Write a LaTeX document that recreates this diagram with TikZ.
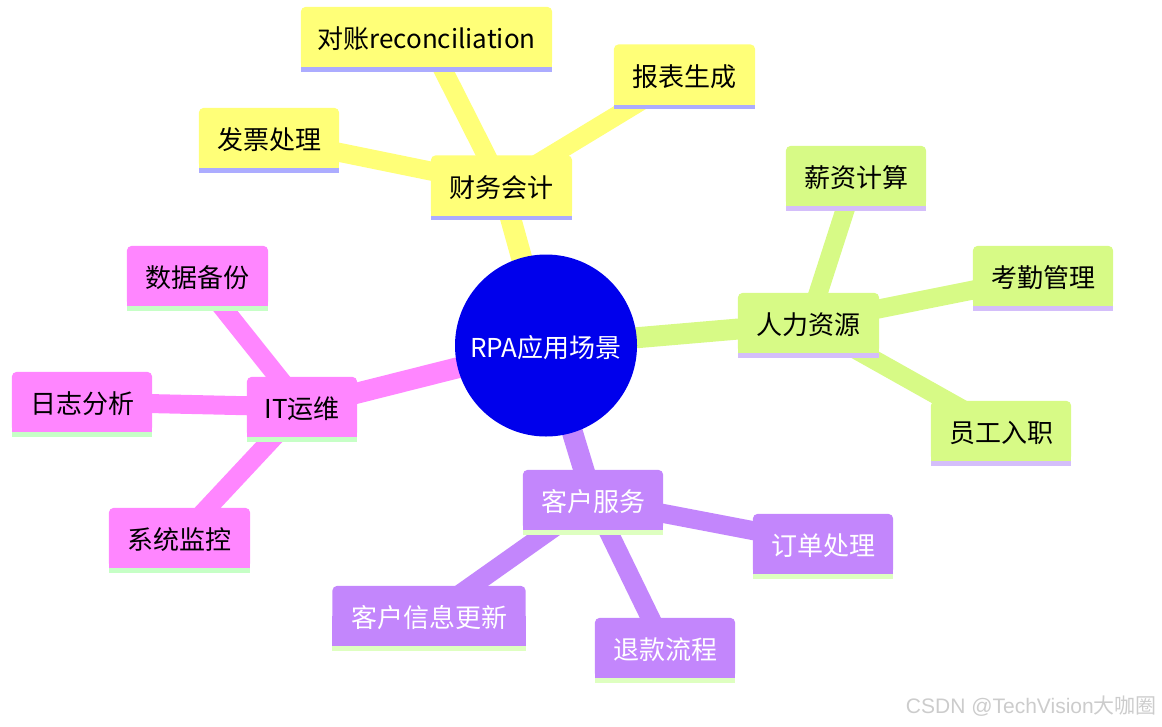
\documentclass[tikz,border=0pt]{standalone}
\usepackage{fontspec}
\setmainfont{Noto Sans CJK SC}
\newfontfamily\wmfont{Noto Sans CJK SC}
\newfontfamily\wmlat{Liberation Sans}
\pgfdeclarelayer{edges}
\pgfdeclarelayer{boxes}
\pgfsetlayers{edges,boxes,main}
\definecolor{cblue}{RGB}{0,0,236}
\definecolor{cyel}{RGB}{255,255,120}
\definecolor{syel}{RGB}{172,172,255}
\definecolor{cgrn}{RGB}{215,250,134}
\definecolor{sgrn}{RGB}{212,190,250}
\definecolor{cpnk}{RGB}{255,134,255}
\definecolor{spnk}{RGB}{198,255,198}
\definecolor{cpur}{RGB}{195,134,252}
\definecolor{spur}{RGB}{222,255,192}
\begin{document}
\begin{tikzpicture}[x=1pt,y=-1pt,
  mm/.style={font=\fontsize{26}{30}\selectfont, inner sep=0pt, text height=26pt, text depth=3pt,
    minimum height=60pt, text=black},
  mmw/.style={mm, text=white},
  rootedge/.style={line width=21pt},
  kidedge/.style={line width=19pt}]
\useasboundingbox (0,0) rectangle (1162,726);
% root
\node[circle, fill=cblue, minimum size=182pt, inner sep=0pt, text=white,
      text height=26pt, text depth=3pt,
      font=\fontsize{26}{30}\selectfont] (root) at (546,345.5) {RPA应用场景};
% finance
\node[mm, minimum width=141pt] (fin) at (501.5,185.5) {财务会计};
\node[mm, minimum width=251pt] (rec) at (426.5,37) {对账reconciliation};
\node[mm, minimum width=141pt] (rep) at (684.5,74.5) {报表生成};
\node[mm, minimum width=140pt] (inv) at (269,138) {发票处理};
% HR
\node[mm, minimum width=141pt] (hr) at (808.5,323) {人力资源};
\node[mm, minimum width=140pt] (pay) at (856,176) {薪资计算};
\node[mm, minimum width=140pt] (att) at (1043,276) {考勤管理};
\node[mm, minimum width=140pt] (onb) at (1001,431) {员工入职};
% IT
\node[mm, minimum width=110pt] (it) at (302,407) {IT运维};
\node[mm, minimum width=141pt] (bak) at (197.5,276) {数据备份};
\node[mm, minimum width=140pt] (log) at (82,402) {日志分析};
\node[mm, minimum width=141pt] (mon) at (179.5,538) {系统监控};
% customer service
\node[mmw, minimum width=140pt] (cs) at (593,500) {客户服务};
\node[mmw, minimum width=140pt] (ord) at (823,544) {订单处理};
\node[mmw, minimum width=193pt] (upd) at (429,616) {客户信息更新};
\node[mmw, minimum width=140pt] (ref) at (665,648) {退款流程};
% watermark
\node[anchor=east, inner sep=0pt, text=black!20, font=\fontsize{21}{24}\selectfont] (wm) at (1157,706) {{\wmlat CSDN @TechVision}{\wmfont 大咖圈}};
% boxes
\begin{pgfonlayer}{boxes}
\foreach \n/\f/\s in {fin/cyel/syel, rec/cyel/syel, rep/cyel/syel, inv/cyel/syel,
    hr/cgrn/sgrn, pay/cgrn/sgrn, att/cgrn/sgrn, onb/cgrn/sgrn,
    it/cpnk/spnk, bak/cpnk/spnk, log/cpnk/spnk, mon/cpnk/spnk,
    cs/cpur/spur, ord/cpur/spur, upd/cpur/spur, ref/cpur/spur} {
  \fill[\f, rounded corners=5pt] (\n.south west) rectangle (\n.north east);
  \fill[\f] (\n.south west) rectangle (\n.north east |- \n.center);
  \fill[\s] (\n.south west) rectangle ([yshift=-4.5pt]\n.south east);
}
\end{pgfonlayer}
% edges
\begin{pgfonlayer}{edges}
\draw[cyel, rootedge] (root.center) -- (fin.center);
\draw[cyel, kidedge] (fin.center) -- (rec.center);
\draw[cyel, kidedge] (fin.center) -- (rep.center);
\draw[cyel, kidedge] (fin.center) -- (inv.center);
\draw[cgrn, rootedge] (root.center) -- (hr.center);
\draw[cgrn, kidedge] (hr.center) -- (pay.center);
\draw[cgrn, kidedge] (hr.center) -- (att.center);
\draw[cgrn, kidedge] (hr.center) -- (onb.center);
\draw[cpnk, rootedge] (root.center) -- (it.center);
\draw[cpnk, kidedge] (it.center) -- (bak.center);
\draw[cpnk, kidedge] (it.center) -- (log.center);
\draw[cpnk, kidedge] (it.center) -- (mon.center);
\draw[cpur, rootedge] (root.center) -- (cs.center);
\draw[cpur, kidedge] (cs.center) -- (ord.center);
\draw[cpur, kidedge] (cs.center) -- (upd.center);
\draw[cpur, kidedge] (cs.center) -- (ref.center);
\end{pgfonlayer}
\end{tikzpicture}
\end{document}
